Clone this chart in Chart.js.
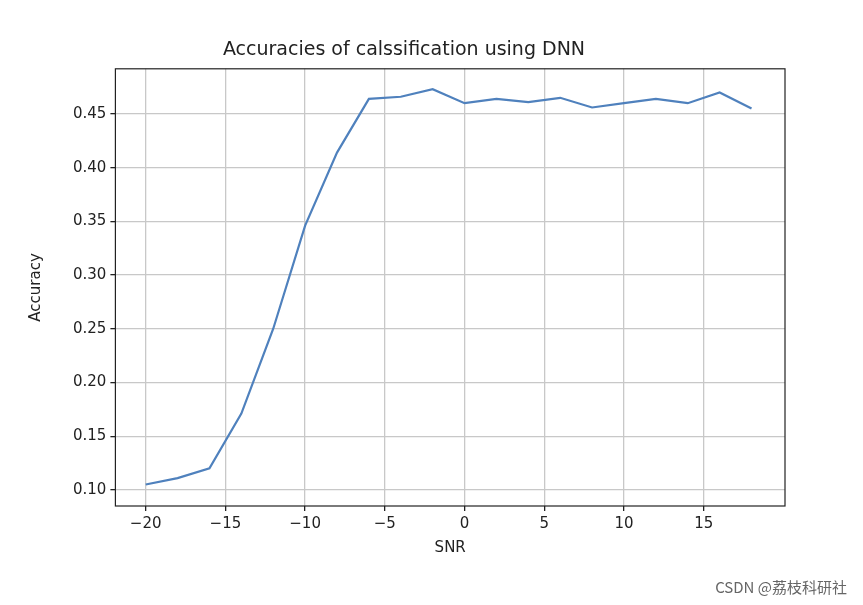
<!DOCTYPE html>
<html><head><meta charset="utf-8">
<script src="https://cdn.jsdelivr.net/npm/chart.js@4"></script>
<style>html,body{margin:0;background:#fff}#w{position:relative;width:863px;height:605px}
#wm{position:absolute;right:16px;bottom:8px;font:15px "Noto Sans CJK SC",sans-serif;color:#666}</style>
</head><body><div id="w"><canvas id="c" width="863" height="605"></canvas><div id="wm">CSDN @荔枝科研社</div></div>
<script>
const snr=[-20,-18,-16,-14,-12,-10,-8,-6,-4,-2,0,2,4,6,8,10,12,14,16,18];
const accuracy=[0.105,0.111,0.120,0.171,0.250,0.346,0.414,0.464,0.466,0.473,0.460,0.464,0.461,0.465,0.456,0.460,0.464,0.460,0.470,0.455];
const xTicks=[-20,-15,-10,-5,0,5,10,15];
const yTicks=[0.10,0.15,0.20,0.25,0.30,0.35,0.40,0.45];
const font={family:'"DejaVu Sans"',size:15};
const box={id:'box',afterDraw(ch){const a=ch.chartArea,c=ch.ctx;c.save();c.strokeStyle='#222';c.lineWidth=1.2;c.strokeRect(a.left,a.top,a.right-a.left,a.bottom-a.top);c.restore();}};
new Chart(document.getElementById('c'),{type:'line',
data:{datasets:[{data:snr.map((x,i)=>({x,y:accuracy[i]})),borderColor:'#4f81bd',borderWidth:2.2,pointRadius:0,tension:0}]},
options:{responsive:false,animation:false,
layout:{padding:{left:23,right:78,top:14,bottom:44}},
plugins:{legend:{display:false},tooltip:{enabled:false},
title:{display:true,text:'Accuracies of calssification using DNN',color:'#222',font:{family:'"DejaVu Sans"',size:19,weight:'normal'},padding:{top:25,bottom:7}}},
scales:{
x:{type:'linear',min:-21.9,max:20.1,afterBuildTicks:s=>{s.ticks=xTicks.map(v=>({value:v}))},
ticks:{color:'#222',font,callback:v=>String(v).replace('-','\u2212'),maxRotation:0,padding:4},
grid:{color:'#c8c8c8',lineWidth:1.3,tickLength:5,tickColor:'#222'},border:{display:false},
title:{display:true,text:'SNR',color:'#222',font,padding:{top:2}}},
y:{min:0.085,max:0.492,afterBuildTicks:s=>{s.ticks=yTicks.map(v=>({value:v}))},
ticks:{color:'#222',font,callback:v=>v.toFixed(2),padding:4},
grid:{color:'#c8c8c8',lineWidth:1.3,tickLength:5,tickColor:'#222'},border:{display:false},
title:{display:true,text:'Accuracy',color:'#222',font,padding:{bottom:24}}}}},
plugins:[box]});
</script></body></html>
